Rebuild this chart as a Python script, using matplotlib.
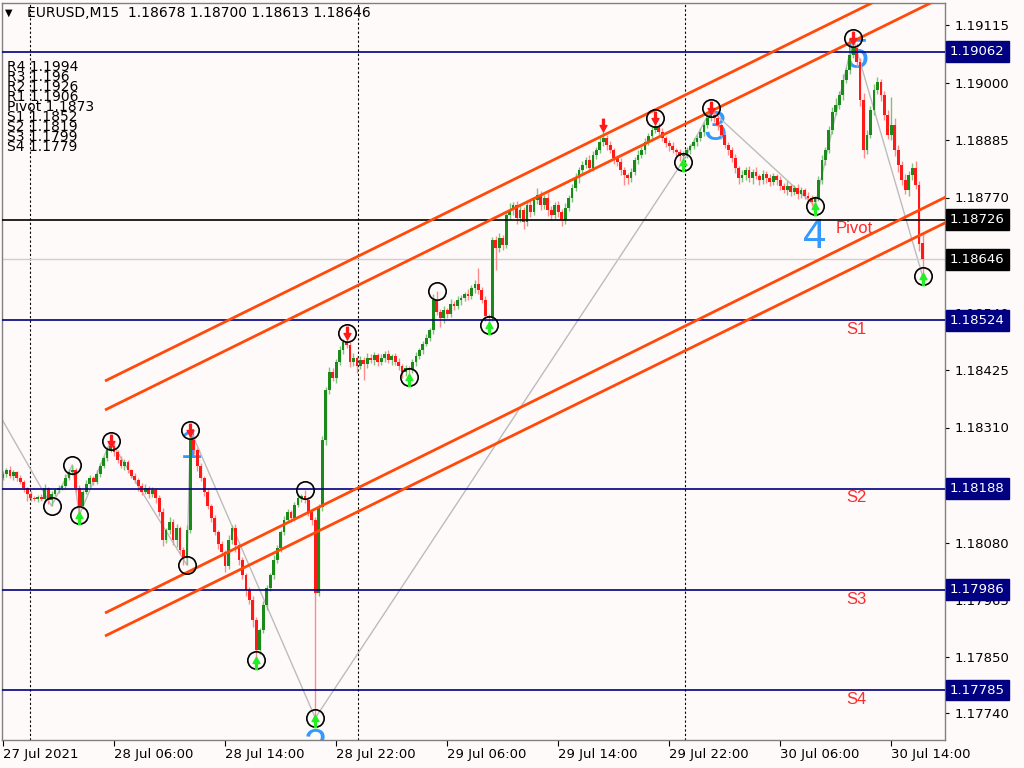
import matplotlib.pyplot as plt
from matplotlib.path import Path
from matplotlib.transforms import blended_transform_factory

# EURUSD M15 bars, bar 0 = 27 Jul 22:00
first_open = 1.18209
closes = [
    1.18217, 1.18225, 1.18213, 1.18221, 1.18209, 1.18201, 1.18189, 1.18177, 1.18169, 1.18167,
    1.18171, 1.18167, 1.18189, 1.18165, 1.18177, 1.18185, 1.18189, 1.18193, 1.18209, 1.18221,
    1.18225, 1.18189, 1.18153, 1.18181, 1.18197, 1.18209, 1.18201, 1.18217, 1.18233, 1.18249,
    1.18265, 1.18273, 1.18261, 1.18245, 1.18233, 1.18241, 1.18225, 1.18213, 1.18205, 1.18193,
    1.18181, 1.18189, 1.18177, 1.18185, 1.18169, 1.18141, 1.18085, 1.18105, 1.18121, 1.18085,
    1.18109, 1.18065, 1.18049, 1.18105, 1.18285, 1.18265, 1.18233, 1.18209, 1.18181, 1.18153,
    1.18129, 1.18101, 1.18077, 1.18061, 1.18033, 1.18085, 1.18109, 1.18075, 1.18045, 1.18015,
    1.17985, 1.17965, 1.17925, 1.17865, 1.17905, 1.17955, 1.17989, 1.18015, 1.18045, 1.18069,
    1.18101, 1.18125, 1.18141, 1.18129, 1.18155, 1.18169, 1.18173, 1.18165, 1.18141, 1.18125,
    1.17979, 1.18151, 1.18285, 1.18385, 1.18421, 1.18409, 1.18441, 1.18465, 1.18481, 1.18475,
    1.18441, 1.18449, 1.18433, 1.18445, 1.18437, 1.18449, 1.18445, 1.18455, 1.18441, 1.18449,
    1.18457, 1.18445, 1.18453, 1.18441, 1.18433, 1.18421, 1.18429, 1.18425, 1.18441, 1.18453,
    1.18465, 1.18477, 1.18489, 1.18505, 1.18565, 1.18541, 1.18529, 1.18545, 1.18537, 1.18557,
    1.18553, 1.18565, 1.18569, 1.18577, 1.18573, 1.18589, 1.18597, 1.18585, 1.18565, 1.18533,
    1.18529, 1.18685, 1.18669, 1.18689, 1.18675, 1.18735, 1.18745, 1.18755, 1.18729, 1.18745,
    1.18721, 1.18755, 1.18741, 1.18765, 1.18775, 1.18755, 1.18769, 1.18745, 1.18735, 1.18755,
    1.18741, 1.18725, 1.18749, 1.18769, 1.18789, 1.18809, 1.18825, 1.18835, 1.18845, 1.18829,
    1.18855, 1.18865, 1.18881, 1.18889, 1.18875, 1.18865, 1.18849, 1.18841, 1.18825, 1.18815,
    1.18809, 1.18821, 1.18845, 1.18855, 1.18865, 1.18881, 1.18893, 1.18905, 1.18913, 1.18901,
    1.18889, 1.18879, 1.18873, 1.18865, 1.18861, 1.18853, 1.18855, 1.18865, 1.18873, 1.18881,
    1.18889, 1.18901, 1.18915, 1.18929, 1.18935, 1.18929, 1.18915, 1.18895, 1.18875, 1.18865,
    1.18849, 1.18829, 1.18809, 1.18815, 1.18825, 1.18809, 1.18821, 1.18813, 1.18805, 1.18817,
    1.18809, 1.18801, 1.18813, 1.18805, 1.18793, 1.18785, 1.18793, 1.18781, 1.18789, 1.18777,
    1.18785, 1.18773, 1.18769, 1.18761, 1.18769, 1.18805, 1.18845, 1.18865, 1.18905, 1.18941,
    1.18955, 1.18975, 1.19005, 1.19025, 1.19055, 1.19069, 1.19041, 1.18965, 1.18865, 1.18895,
    1.18945, 1.18985, 1.19001, 1.18975, 1.18935, 1.18895, 1.18915, 1.18865, 1.18835, 1.18805,
    1.18785, 1.18815, 1.18829, 1.18795, 1.18678, 1.18646,
]
# wick lengths above / below the body, in points (0.00001)
upper_wick = [
    6, 4, 8, 4, 2, 6, 4, 2, 6, 4,
    4, 6, 8, 2, 6, 4, 6, 4, 8, 6,
    10, 4, 6, 4, 8, 6, 4, 8, 6, 4,
    6, 10, 6, 4, 8, 6, 4, 2, 6, 4,
    6, 8, 4, 6, 4, 6, 8, 4, 10, 6,
    8, 4, 6, 10, 20, 8, 4, 6, 4, 8,
    4, 6, 4, 6, 4, 10, 6, 8, 4, 6,
    4, 6, 8, 6, 4, 8, 6, 4, 10, 6,
    4, 8, 6, 4, 6, 8, 4, 12, 6, 4,
    6, 6, 8, 6, 10, 8, 6, 8, 6, 18,
    6, 10, 4, 8, 6, 10, 8, 6, 4, 8,
    6, 8, 4, 6, 8, 4, 6, 4, 6, 8,
    4, 6, 8, 4, 12, 18, 6, 8, 4, 10,
    6, 8, 6, 4, 10, 6, 8, 32, 6, 8,
    4, 6, 8, 10, 6, 8, 14, 6, 8, 10,
    6, 8, 10, 6, 14, 8, 6, 10, 8, 6,
    8, 6, 10, 6, 8, 10, 6, 8, 6, 10,
    8, 6, 10, 26, 6, 8, 4, 6, 8, 6,
    4, 8, 6, 10, 6, 8, 6, 8, 16, 6,
    8, 4, 6, 8, 4, 6, 8, 6, 4, 8,
    6, 8, 6, 10, 14, 8, 6, 4, 8, 6,
    6, 8, 4, 10, 6, 8, 6, 10, 4, 8,
    6, 8, 6, 4, 8, 6, 10, 4, 6, 8,
    6, 4, 8, 6, 4, 8, 10, 6, 8, 10,
    14, 8, 12, 6, 10, 20, 10, 8, 14, 10,
    8, 12, 10, 6, 8, 10, 56, 14, 10, 8,
    12, 8, 10, 14, 8, 21,
]
lower_wick = [
    4, 6, 4, 8, 6, 4, 8, 14, 6, 4,
    6, 4, 6, 8, 12, 4, 6, 4, 6, 4,
    6, 8, 18, 6, 4, 8, 6, 4, 6, 4,
    6, 4, 8, 6, 4, 8, 6, 4, 6, 10,
    6, 4, 8, 6, 10, 8, 12, 6, 8, 10,
    14, 8, 14, 14, 6, 8, 10, 6, 8, 6,
    8, 6, 10, 8, 12, 6, 8, 14, 10, 8,
    12, 8, 14, 20, 8, 6, 10, 6, 8, 6,
    8, 6, 4, 8, 6, 4, 8, 6, 8, 10,
    250, 6, 8, 10, 8, 6, 10, 6, 8, 6,
    10, 8, 14, 6, 32, 8, 6, 10, 8, 6,
    8, 6, 10, 6, 8, 12, 8, 14, 6, 8,
    6, 8, 4, 6, 8, 6, 18, 10, 8, 6,
    8, 6, 10, 6, 8, 6, 10, 8, 6, 10,
    14, 6, 44, 8, 10, 6, 8, 10, 12, 8,
    14, 8, 10, 6, 8, 10, 8, 12, 10, 8,
    10, 12, 8, 6, 8, 6, 10, 8, 6, 8,
    6, 8, 6, 8, 10, 6, 12, 8, 10, 20,
    12, 8, 6, 8, 6, 8, 6, 10, 6, 8,
    6, 8, 10, 6, 8, 10, 12, 6, 8, 6,
    8, 6, 8, 6, 6, 8, 10, 8, 6, 10,
    8, 10, 12, 8, 10, 8, 12, 6, 10, 8,
    10, 8, 6, 10, 8, 6, 10, 8, 6, 10,
    8, 6, 10, 8, 8, 6, 8, 10, 6, 8,
    6, 8, 10, 6, 8, 6, 10, 12, 16, 8,
    6, 10, 8, 12, 10, 8, 10, 12, 14, 10,
    8, 12, 10, 8, 14, 33,
]

# time axis
tick_bars = [0, 32, 64, 96, 128, 160, 192, 224, 256]
tick_labels = ['27 Jul 2021', '28 Jul 06:00', '28 Jul 14:00', '28 Jul 22:00', '29 Jul 06:00',
               '29 Jul 14:00', '29 Jul 22:00', '30 Jul 06:00', '30 Jul 14:00']
day_separators = [7.8, 102.3, 196.5]

# price axis
price_ticks = [1.19115, 1.19000, 1.18885, 1.18770, 1.18540, 1.18425, 1.18310,
               1.18195, 1.18080, 1.17965, 1.17850, 1.17740]

# pivot levels
pivot_names = ['R4', 'R3', 'R2', 'R1', 'Pivot', 'S1', 'S2', 'S3', 'S4']
pivot_texts = ['1.1994', '1.196', '1.1926', '1.1906', '1.1873', '1.1852', '1.1819', '1.1799', '1.1779']
level_names = ['R1', 'Pivot', 'S1', 'S2', 'S3', 'S4']
level_prices = [1.19062, 1.18726, 1.18524, 1.18188, 1.17986, 1.17785]
last_price = 1.18646

# regression channel lines (start / end bar and price)
channel_bars = [29.4, 272]
channel_start = [1.18403, 1.18345, 1.17939, 1.17893]
channel_end = [1.19233, 1.19175, 1.18772, 1.18721]

# zigzag
zigzag_bars = [-1, 14, 20, 22, 31, 53, 54, 90, 196, 204, 234, 245, 265]
zigzag_prices = [1.18335, 1.18153, 1.18235, 1.18135, 1.18283, 1.18035, 1.18305,
                 1.17729, 1.18843, 1.18945, 1.18753, 1.19089, 1.18613]

# fractal circles and arrows
circle_high_bars = [20, 31, 54, 87, 99, 125, 188, 204, 245]
circle_low_bars = [14, 22, 53, 73, 90, 117, 140, 196, 234, 265]
sell_arrow_bars = [31, 54, 99, 173, 188, 204, 245]
buy_arrow_bars = [22, 73, 90, 117, 140, 196, 234, 265]

# elliott wave labels
wave_labels = ['1', '2', '3', '4', '5']
wave_bars = [54.3, 90.2, 205.2, 234, 246.1]
wave_prices = [1.18249, 1.17649, 1.18885, 1.18669, 1.19029]

bg = '#fffafa'
navy = '#000080'

opens = [first_open] + closes[:-1]
highs = [max(o, c) + u * 1e-5 for o, c, u in zip(opens, closes, upper_wick)]
lows = [min(o, c) - d * 1e-5 for o, c, d in zip(opens, closes, lower_wick)]
bars = list(range(len(closes)))

fig = plt.figure(figsize=(10.24, 7.68), dpi=100, facecolor=bg)
ax = fig.add_axes([2 / 1024, 28 / 768, 943 / 1024, 737 / 768], facecolor=bg)
ax.set_xlim(-0.29, 271.47)
ax.set_ylim(1.17685, 1.19159)

# period separators
for b in day_separators:
    ax.axvline(b, color='black', ls=(0, (2, 2)), lw=0.8, zorder=0.5)

# wave numbers sit behind the candles
for lab, b, p in zip(wave_labels, wave_bars, wave_prices):
    ax.text(b, p, lab, fontsize=30, color='#3399ff', ha='center', va='baseline',
            family='Liberation Sans', zorder=1.0, clip_on=True)

# zigzag
ax.plot(zigzag_bars, zigzag_prices, color='#bcbcbc', lw=1, zorder=1.5)

# candles
up = [c >= o for o, c in zip(opens, closes)]
wick_cols = ['#7cc47c' if u else '#ff8a8a' for u in up]
body_cols = ['#1a8a1a' if u else '#ff1a1a' for u in up]
ax.vlines(bars, lows, highs, colors=wick_cols, lw=1, zorder=2)
bottoms = [min(o, c) for o, c in zip(opens, closes)]
heights = [max(abs(c - o), 1e-5) for o, c in zip(opens, closes)]
ax.bar(bars, heights, bottom=bottoms, width=0.8, color=body_cols, linewidth=0, zorder=2.2)

# horizontal levels
for name, p in zip(level_names, level_prices):
    ax.axhline(p, color='black' if name == 'Pivot' else navy, lw=1.2, zorder=3)
ax.axhline(last_price, color='#cfcfcf', lw=1, zorder=1.8)
for name, p in zip(level_names, level_prices):
    if name == 'R1':
        continue
    xb = 240 if name == 'Pivot' else 243
    ax.text(xb, p - 0.00019, name, color='#ff2a2a', fontsize=12, family='Liberation Sans',
            ha='left', va='center', zorder=3)

# channel
for s, e in zip(channel_start, channel_end):
    ax.plot(channel_bars, [s, e], color='#ff4a0a', lw=2, zorder=3.2, solid_capstyle='butt')

# circles and arrows
ax.plot(circle_high_bars, [highs[i] for i in circle_high_bars], 'o', mfc='none', mec='black',
        ms=12.5, mew=1.2, zorder=4)
ax.plot(circle_low_bars, [lows[i] for i in circle_low_bars], 'o', mfc='none', mec='black',
        ms=12.5, mew=1.2, zorder=4)
down_arrow = Path([(-0.15, 1), (0.15, 1), (0.15, 0), (0.55, 0), (0, -1), (-0.55, 0), (-0.15, 0), (-0.15, 1)],
                  [1, 2, 2, 2, 2, 2, 2, 79])
up_arrow = Path([(-0.15, -1), (0.15, -1), (0.15, 0), (0.55, 0), (0, 1), (-0.55, 0), (-0.15, 0), (-0.15, -1)],
                [1, 2, 2, 2, 2, 2, 2, 79])
ax.plot(sell_arrow_bars, [highs[i] for i in sell_arrow_bars], ls='none', marker=down_arrow,
        ms=9, color='#ff1a1a', zorder=5)
ax.plot(buy_arrow_bars, [lows[i] - 0.00006 for i in buy_arrow_bars], ls='none', marker=up_arrow,
        ms=9, color='#22ee22', zorder=5)

# axes styling
for sp in ax.spines.values():
    sp.set_color('#808080')
    sp.set_linewidth(1)
ax.yaxis.tick_right()
ax.set_yticks(price_ticks)
ax.set_yticklabels([f'{v:.5f}' for v in price_ticks])
ax.tick_params(axis='y', length=3, pad=4, labelsize=9.5, color='black')
ax.set_xticks(tick_bars)
ax.set_xticklabels(tick_labels)
ax.tick_params(axis='x', length=4, pad=2, labelsize=9.5, color='black')
for lbl in ax.get_xticklabels():
    lbl.set_ha('left')

# price boxes on the right scale
tr = blended_transform_factory(ax.transAxes, ax.transData)
for name, p in zip(level_names, level_prices):
    fc = 'black' if name == 'Pivot' else navy
    ax.text(1.0 + 5 / 943, p, f'{p:.5f}', transform=tr, color='white', fontsize=9.5,
            ha='left', va='center', clip_on=False, zorder=10,
            bbox=dict(boxstyle='square,pad=0.3', fc=fc, ec=fc))
ax.text(1.0 + 5 / 943, last_price, f'{last_price:.5f}', transform=tr, color='white', fontsize=9.5,
        ha='left', va='center', clip_on=False, zorder=10,
        bbox=dict(boxstyle='square,pad=0.3', fc='black', ec='black'))


def axpos(px, py):
    return (px - 2) / 943, (740 - py) / 737


# header
ax.text(*axpos(5, 13), '\u25bc', transform=ax.transAxes, fontsize=7, va='center', ha='left', zorder=10)
ax.text(*axpos(27, 13), 'EURUSD,M15  1.18678 1.18700 1.18613 1.18646', transform=ax.transAxes,
        fontsize=10, va='center', ha='left', zorder=10)

# pivot list
for k, (n, t) in enumerate(zip(pivot_names, pivot_texts)):
    ax.text(*axpos(7, 67 + 10 * k), f'{n} {t}', transform=ax.transAxes, fontsize=10,
            va='center', ha='left', zorder=10)

fig.savefig('out.png', dpi=100, facecolor=bg)
